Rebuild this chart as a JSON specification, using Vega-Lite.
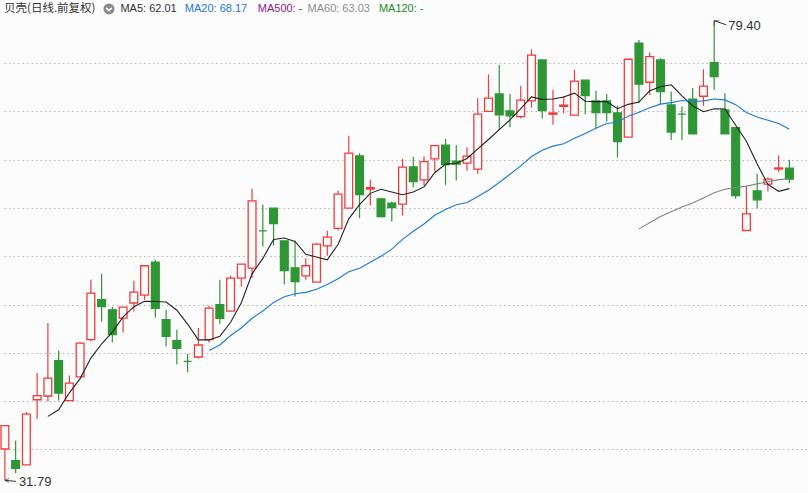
{
  "$schema": "https://vega.github.io/schema/vega-lite/v6.json",
  "width": 808,
  "height": 493,
  "autosize": {"type": "fit", "contains": "padding"},
  "padding": 0,
  "background": "#fcfcfc",
  "config": {"view": {"stroke": null}, "font": "Liberation Sans"},
  "data": {"values": [
    {"i":0,"o":35.04,"h":37.45,"l":31.79,"c":37.45},
    {"i":1,"o":33.83,"h":35.9,"l":32.52,"c":33.03},
    {"i":2,"o":33.39,"h":38.87,"l":33.39,"c":38.66},
    {"i":3,"o":40.14,"h":42.91,"l":38.15,"c":40.56},
    {"i":4,"o":40.53,"h":48.08,"l":39.97,"c":42.39,"ma5":38.42},
    {"i":5,"o":44.18,"h":45.22,"l":40.07,"c":40.84,"ma5":39.10},
    {"i":6,"o":40.04,"h":42.66,"l":40.0,"c":41.87,"ma5":40.86},
    {"i":7,"o":42.5,"h":46.1,"l":42.5,"c":46.01,"ma5":42.33},
    {"i":8,"o":46.36,"h":52.57,"l":46.18,"c":51.19,"ma5":44.46},
    {"i":9,"o":50.5,"h":53.19,"l":48.25,"c":49.8,"ma5":45.94},
    {"i":10,"o":49.46,"h":49.74,"l":46.08,"c":46.9,"ma5":47.15},
    {"i":11,"o":48.6,"h":49.74,"l":47.11,"c":49.74,"ma5":48.73},
    {"i":12,"o":50.16,"h":52.46,"l":49.29,"c":51.29,"ma5":49.78},
    {"i":13,"o":50.98,"h":54.02,"l":50.5,"c":54.02,"ma5":50.35},
    {"i":14,"o":54.4,"h":54.64,"l":48.66,"c":49.6,"ma5":50.31},
    {"i":15,"o":48.43,"h":49.46,"l":45.66,"c":46.7,"ma5":50.27},
    {"i":16,"o":46.25,"h":47.39,"l":43.8,"c":45.46,"ma5":49.41},
    {"i":17,"o":44.11,"h":44.91,"l":42.97,"c":44.11,"ma5":47.98},
    {"i":18,"o":44.57,"h":47.57,"l":44.42,"c":45.81,"ma5":46.34},
    {"i":19,"o":46.36,"h":49.88,"l":46.08,"c":49.64,"ma5":46.34,"ma20":45.25},
    {"i":20,"o":49.98,"h":52.57,"l":48.01,"c":48.56,"ma5":46.72,"ma20":45.81},
    {"i":21,"o":49.33,"h":52.98,"l":49.33,"c":52.74,"ma5":48.17,"ma20":46.79},
    {"i":22,"o":52.74,"h":54.19,"l":51.87,"c":54.19,"ma5":50.19,"ma20":47.57},
    {"i":23,"o":53.78,"h":61.99,"l":52.74,"c":60.75,"ma5":53.18,"ma20":48.58},
    {"i":24,"o":57.64,"h":60.33,"l":56.01,"c":57.64,"ma5":54.78,"ma20":49.34},
    {"i":25,"o":59.99,"h":59.99,"l":56.12,"c":58.4,"ma5":56.74,"ma20":50.22},
    {"i":26,"o":56.6,"h":56.6,"l":52.08,"c":53.53,"ma5":56.90,"ma20":50.80},
    {"i":27,"o":53.81,"h":56.6,"l":50.84,"c":52.39,"ma5":56.54,"ma20":51.12},
    {"i":28,"o":52.98,"h":54.81,"l":52.57,"c":54.02,"ma5":55.20,"ma20":51.26},
    {"i":29,"o":52.33,"h":56.37,"l":52.33,"c":56.26,"ma5":54.92,"ma20":51.59},
    {"i":30,"o":56.09,"h":57.64,"l":55.05,"c":56.99,"ma5":54.64,"ma20":52.09},
    {"i":31,"o":57.9,"h":61.78,"l":57.67,"c":61.44,"ma5":56.22,"ma20":52.68},
    {"i":32,"o":59.99,"h":67.47,"l":59.99,"c":65.68,"ma5":58.88,"ma20":53.40},
    {"i":33,"o":65.4,"h":65.68,"l":58.95,"c":61.4,"ma5":60.35,"ma20":53.77},
    {"i":34,"o":61.95,"h":62.92,"l":60.26,"c":62.1,"ma5":61.52,"ma20":54.39},
    {"i":35,"o":60.95,"h":61.06,"l":59.02,"c":59.12,"ma5":61.95,"ma20":55.01},
    {"i":36,"o":60.51,"h":60.67,"l":58.6,"c":60.05,"ma5":61.67,"ma20":55.74},
    {"i":37,"o":60.4,"h":65.09,"l":59.22,"c":64.23,"ma5":61.38,"ma20":56.75},
    {"i":38,"o":64.26,"h":65.3,"l":62.12,"c":62.74,"ma5":61.65,"ma20":57.59},
    {"i":39,"o":62.92,"h":65.37,"l":62.33,"c":64.81,"ma5":62.19,"ma20":58.35},
    {"i":40,"o":65.09,"h":66.47,"l":63.78,"c":66.47,"ma5":63.66,"ma20":59.25},
    {"i":41,"o":66.51,"h":67.16,"l":62.4,"c":64.5,"ma5":64.55,"ma20":59.84},
    {"i":42,"o":64.86,"h":66.54,"l":62.85,"c":64.54,"ma5":64.61,"ma20":60.35},
    {"i":43,"o":64.65,"h":66.3,"l":63.85,"c":65.37,"ma5":65.14,"ma20":60.58},
    {"i":44,"o":64.03,"h":71.38,"l":63.54,"c":69.72,"ma5":66.12,"ma20":61.19},
    {"i":45,"o":70.01,"h":73.84,"l":70.0,"c":71.38,"ma5":67.10,"ma20":61.84},
    {"i":46,"o":71.82,"h":74.82,"l":68.1,"c":69.65,"ma5":68.13,"ma20":62.64},
    {"i":47,"o":70.06,"h":71.82,"l":68.37,"c":69.54,"ma5":69.13,"ma20":63.50},
    {"i":48,"o":69.47,"h":72.65,"l":69.27,"c":71.17,"ma5":70.29,"ma20":64.36},
    {"i":49,"o":71.1,"h":76.45,"l":70.4,"c":75.83,"ma5":71.51,"ma20":65.34},
    {"i":50,"o":75.34,"h":75.34,"l":69.27,"c":70.09,"ma5":71.26,"ma20":65.99},
    {"i":51,"o":69.72,"h":72.24,"l":68.64,"c":69.85,"ma5":71.29,"ma20":66.41},
    {"i":52,"o":70.53,"h":71.61,"l":69.82,"c":70.66,"ma5":71.50,"ma20":66.66},
    {"i":53,"o":69.62,"h":74.31,"l":69.62,"c":73.14,"ma5":71.90,"ma20":67.24},
    {"i":54,"o":73.24,"h":73.24,"l":69.72,"c":71.65,"ma5":71.06,"ma20":67.72},
    {"i":55,"o":71.1,"h":72.16,"l":68.27,"c":69.89,"ma5":71.02,"ma20":68.26},
    {"i":56,"o":71.1,"h":71.82,"l":68.95,"c":69.89,"ma5":71.04,"ma20":68.75},
    {"i":57,"o":69.86,"h":70.58,"l":65.23,"c":66.88,"ma5":70.29,"ma20":68.88},
    {"i":58,"o":67.34,"h":75.41,"l":67.34,"c":75.41,"ma5":70.74,"ma20":69.52},
    {"i":59,"o":77.07,"h":77.41,"l":70.86,"c":72.83,"ma5":70.98,"ma20":69.92,"ma60":57.84},
    {"i":60,"o":73.03,"h":76.1,"l":71.72,"c":75.68,"ma5":72.14,"ma20":70.38,"ma60":58.48},
    {"i":61,"o":75.34,"h":75.52,"l":70.79,"c":72.06,"ma5":72.57,"ma20":70.76,"ma60":59.13},
    {"i":62,"o":70.68,"h":72.06,"l":67.06,"c":67.86,"ma5":72.77,"ma20":70.92,"ma60":59.62},
    {"i":63,"o":69.72,"h":70.51,"l":67.06,"c":69.72,"ma5":71.62,"ma20":71.14,"ma60":60.10},
    {"i":64,"o":71.27,"h":72.44,"l":67.68,"c":67.68,"ma5":70.59,"ma20":71.04,"ma60":60.52},
    {"i":65,"o":71.58,"h":74.38,"l":70.58,"c":72.62,"ma5":69.98,"ma20":71.10,"ma60":61.05},
    {"i":66,"o":75.06,"h":79.40,"l":72.24,"c":73.61,"ma5":70.29,"ma20":71.30,"ma60":61.58},
    {"i":67,"o":70.17,"h":71.89,"l":67.68,"c":67.68,"ma5":70.26,"ma20":71.20,"ma60":61.94},
    {"i":68,"o":68.33,"h":68.33,"l":60.95,"c":61.29,"ma5":68.58,"ma20":70.71,"ma60":62.11},
    {"i":69,"o":57.67,"h":62.3,"l":57.67,"c":59.4,"ma5":66.92,"ma20":69.89,"ma60":62.27},
    {"i":70,"o":61.78,"h":63.54,"l":59.99,"c":60.85,"ma5":64.57,"ma20":69.43,"ma60":62.50},
    {"i":71,"o":62.47,"h":63.16,"l":61.71,"c":62.99,"ma5":62.44,"ma20":69.09,"ma60":62.72},
    {"i":72,"o":64.04,"h":65.43,"l":63.72,"c":64.15,"ma5":61.73,"ma20":68.76,"ma60":62.94},
    {"i":73,"o":64.13,"h":64.99,"l":62.58,"c":62.99,"ma5":62.01,"ma20":68.17,"ma60":63.03}
  ]},
  "encoding": {
    "x": {"field": "i", "type": "quantitative", "scale": {"domain": [-0.083, 74.73], "nice": false, "zero": false, "padding": 0}, "axis": null}
  },
  "layer": [
    {
      "mark": {"type": "rule", "strokeWidth": 1.2},
      "encoding": {
        "y": {"field": "l", "type": "quantitative", "scale": {"domain": [30.48, 81.55], "nice": false, "zero": false},
              "axis": {"grid": true, "values": [35, 40, 45, 50, 55, 60, 65, 70, 75], "labels": false, "ticks": false, "domain": false, "title": null, "gridColor": "#b5b5b5", "gridDash": [1.5, 3], "gridWidth": 1}},
        "y2": {"field": "h"},
        "color": {"condition": {"test": "datum.c > datum.o", "value": "#f03c3c"}, "value": "#2f9636"}
      }
    },
    {
      "mark": {"type": "bar", "orient": "vertical", "size": 7.8, "strokeWidth": 1.3},
      "encoding": {
        "y": {"field": "o", "type": "quantitative", "scale": {"domain": [30.48, 81.55], "nice": false, "zero": false}},
        "y2": {"field": "c"},
        "fill": {"condition": {"test": "datum.c > datum.o", "value": "#fcfcfc"}, "value": "#2f9636"},
        "stroke": {"condition": {"test": "datum.c > datum.o", "value": "#f03c3c"}, "value": "#2f9636"}
      }
    },
    {
      "mark": {"type": "line", "color": "#222222", "strokeWidth": 1.1},
      "encoding": {"y": {"field": "ma5", "type": "quantitative", "scale": {"domain": [30.48, 81.55], "nice": false, "zero": false}}}
    },
    {
      "mark": {"type": "line", "color": "#1a7ad6", "strokeWidth": 1.1},
      "encoding": {"y": {"field": "ma20", "type": "quantitative", "scale": {"domain": [30.48, 81.55], "nice": false, "zero": false}}}
    },
    {
      "mark": {"type": "line", "color": "#858585", "strokeWidth": 1.1},
      "encoding": {"y": {"field": "ma60", "type": "quantitative", "scale": {"domain": [30.48, 81.55], "nice": false, "zero": false}}}
    },
    {
      "transform": [{"filter": "datum.i == 66"}],
      "mark": {"type": "rule", "color": "#333333", "strokeWidth": 1, "x2Offset": 12, "y2Offset": 4},
      "encoding": {
        "y": {"field": "h", "type": "quantitative", "scale": {"domain": [30.48, 81.55], "nice": false, "zero": false}},
        "x2": {"field": "i"},
        "y2": {"field": "h"}
      }
    },
    {
      "transform": [{"filter": "datum.i == 66"}],
      "mark": {"type": "point", "shape": "M-1,1L-1,-1L1,-1", "filled": false, "stroke": "#333333", "strokeWidth": 1, "size": 25, "xOffset": 2.5, "yOffset": 2.5},
      "encoding": {"y": {"field": "h", "type": "quantitative", "scale": {"domain": [30.48, 81.55], "nice": false, "zero": false}}}
    },
    {
      "transform": [{"filter": "datum.i == 66"}],
      "mark": {"type": "text", "align": "left", "baseline": "middle", "dx": 14, "dy": 5, "fontSize": 13, "color": "#333333"},
      "encoding": {
        "y": {"field": "h", "type": "quantitative", "scale": {"domain": [30.48, 81.55], "nice": false, "zero": false}},
        "text": {"field": "h", "type": "quantitative", "format": ".2f"}
      }
    },
    {
      "transform": [{"filter": "datum.i == 0"}],
      "mark": {"type": "rule", "color": "#333333", "strokeWidth": 1, "x2Offset": 11, "y2Offset": 1},
      "encoding": {
        "y": {"field": "l", "type": "quantitative", "scale": {"domain": [30.48, 81.55], "nice": false, "zero": false}},
        "x2": {"field": "i"},
        "y2": {"field": "l"}
      }
    },
    {
      "transform": [{"filter": "datum.i == 0"}],
      "mark": {"type": "point", "shape": "M1,-1L-1,0L1,1", "filled": false, "stroke": "#333333", "strokeWidth": 1, "size": 16, "xOffset": 2},
      "encoding": {"y": {"field": "l", "type": "quantitative", "scale": {"domain": [30.48, 81.55], "nice": false, "zero": false}}}
    },
    {
      "transform": [{"filter": "datum.i == 0"}],
      "mark": {"type": "text", "align": "left", "baseline": "middle", "dx": 14, "dy": 1.5, "fontSize": 13, "color": "#333333"},
      "encoding": {
        "y": {"field": "l", "type": "quantitative", "scale": {"domain": [30.48, 81.55], "nice": false, "zero": false}},
        "text": {"field": "l", "type": "quantitative", "format": ".2f"}
      }
    },
    {
      "transform": [{"filter": "datum.i == 73"}],
      "mark": {"type": "text", "align": "left", "baseline": "middle", "fontSize": 11.5, "font": "Noto Sans CJK SC", "color": "#333333", "text": "贝壳(日线.前复权)"},
      "encoding": {"x": {"datum": -0.083}, "y": {"datum": 80.62}}
    },
    {
      "transform": [{"filter": "datum.i == 73"}],
      "mark": {"type": "point", "shape": "circle", "filled": true, "color": "#8a8a8a", "opacity": 1, "size": 121},
      "encoding": {"x": {"datum": 9.685}, "y": {"datum": 80.62}}
    },
    {
      "transform": [{"filter": "datum.i == 73"}],
      "mark": {"type": "point", "shape": "M-1,-0.4L0,0.6L1,-0.4", "filled": false, "stroke": "#ffffff", "strokeWidth": 1.5, "opacity": 1, "size": 30},
      "encoding": {"x": {"datum": 9.685}, "y": {"datum": 80.62}}
    },
    {
      "transform": [{"filter": "datum.i == 73"}],
      "mark": {"type": "text", "align": "left", "baseline": "middle", "fontSize": 11, "color": "#333333", "text": "MA5: 62.01"},
      "encoding": {"x": {"datum": 10.75}, "y": {"datum": 80.62}}
    },
    {
      "transform": [{"filter": "datum.i == 73"}],
      "mark": {"type": "text", "align": "left", "baseline": "middle", "fontSize": 11, "color": "#1a7ad6", "text": "MA20: 68.17"},
      "encoding": {"x": {"datum": 16.74}, "y": {"datum": 80.62}}
    },
    {
      "transform": [{"filter": "datum.i == 73"}],
      "mark": {"type": "text", "align": "left", "baseline": "middle", "fontSize": 11, "color": "#8b1a8b", "text": "MA500: -"},
      "encoding": {"x": {"datum": 23.53}, "y": {"datum": 80.62}}
    },
    {
      "transform": [{"filter": "datum.i == 73"}],
      "mark": {"type": "text", "align": "left", "baseline": "middle", "fontSize": 11, "color": "#8c8c8c", "text": "MA60: 63.03"},
      "encoding": {"x": {"datum": 28.16}, "y": {"datum": 80.62}}
    },
    {
      "transform": [{"filter": "datum.i == 73"}],
      "mark": {"type": "text", "align": "left", "baseline": "middle", "fontSize": 11, "color": "#1a8a1a", "text": "MA120: -"},
      "encoding": {"x": {"datum": 34.8}, "y": {"datum": 80.62}}
    }
  ]
}
